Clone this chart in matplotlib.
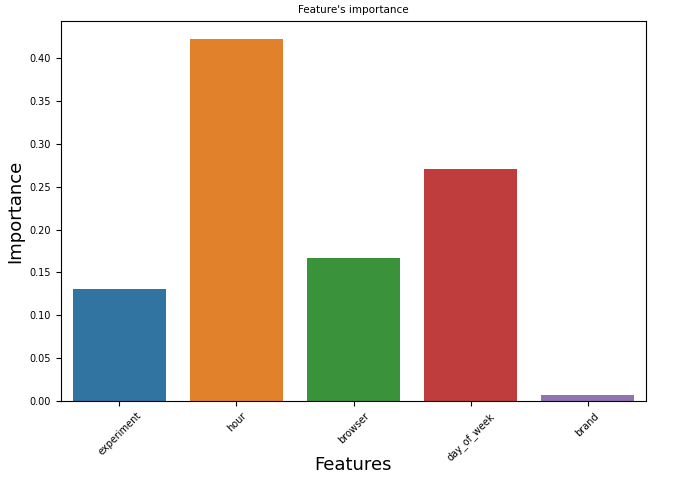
import matplotlib
matplotlib.use('Agg')
import matplotlib.pyplot as plt
import seaborn as sns

# feature importance values
features = ['experiment', 'hour', 'browser', 'day_of_week', 'brand']
importance = [0.131, 0.422, 0.167, 0.271, 0.007]

fig, ax = plt.subplots(figsize=(7, 4.83), dpi=100)
sns.barplot(x=features, y=importance, hue=features, palette='tab10',
            legend=False, ax=ax)

ax.set_title("Feature's importance", fontsize=7.5)
ax.set_xlabel('Features', fontsize=13)
ax.set_ylabel('Importance', fontsize=13)
ax.xaxis.set_label_coords(0.5, -0.145)
ax.tick_params(axis='both', labelsize=7)
plt.setp(ax.get_xticklabels(), rotation=45)

fig.subplots_adjust(left=0.087, right=0.923, top=0.956, bottom=0.17)
fig.savefig('out.png', dpi=100)
